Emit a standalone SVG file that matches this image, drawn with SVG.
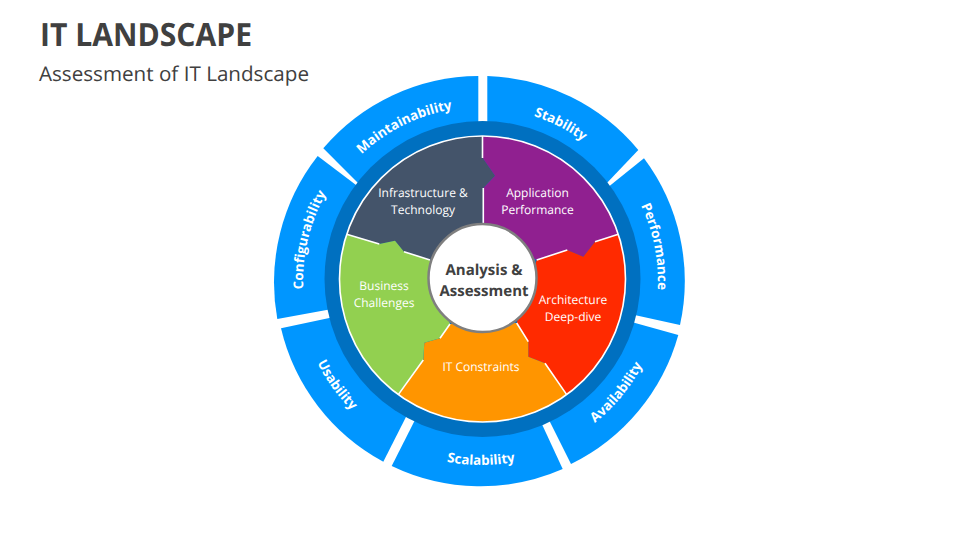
<svg xmlns="http://www.w3.org/2000/svg" width="960" height="540" viewBox="0 0 960 540">
<style>
text{font-family:"Open Sans","Lato","Liberation Sans",sans-serif;text-rendering:geometricPrecision}
.t{font-weight:700;font-size:32px;fill:#404040}
.s{font-size:20.3px;fill:#404040}
.o{fill:#0096ff}
.l{fill:#fff;font-size:13.4px;font-weight:700;text-anchor:middle}
.i{fill:#fff;font-size:12px;text-anchor:middle}
.c{fill:#404040;font-size:15px;font-weight:700;text-anchor:middle}
.w{fill:none;stroke:#fff;stroke-width:1.6}
</style>
<defs>
<path id="pM" d="M316.1 225.5A174 174 0 0 1 536.5 116"/>
<path id="pS" d="M427.3 116.5A173 173 0 0 1 645.5 227.2"/>
<path id="pP" d="M579.5 134A177 177 0 0 1 628 379.4"/>
<path id="pC" d="M329.4 374.2A178 178 0 0 1 387.8 129.4"/>
<path id="pA" d="M498.8 462.1A182 182 0 0 0 662.1 263.2"/>
<path id="pB" d="M350.9 411.1A184 184 0 0 0 611.1 411.1"/>
<path id="pU" d="M300.4 251.7A183 183 0 0 0 451.7 461.6"/>
</defs>
<rect width="960" height="540" fill="#fff"/>
<text class="t" x="40" y="46" textLength="212" lengthAdjust="spacingAndGlyphs">IT LANDSCAPE</text>
<text class="s" x="39" y="81" textLength="270" lengthAdjust="spacingAndGlyphs">Assessment of IT Landscape</text>

<g id="maintainability"><path class="o" d="M323.3 148.3A205 205 0 0 1 478.3 76L478.3 130L360 185Z"/><text class="l"><textPath href="#pM" startOffset="50%">Maintainability</textPath></text></g>
<g id="stability"><path class="o" d="M487.3 76A205 205 0 0 1 638.3 150L605 185L487.3 130Z"/><text class="l"><textPath href="#pS" startOffset="50%">Stability</textPath></text></g>
<g id="performance"><path class="o" d="M644 158.3A205 205 0 0 1 680 325L630 314L607 188Z"/><text class="l"><textPath href="#pP" startOffset="50%">Performance</textPath></text></g>
<g id="availability"><path class="o" d="M678.3 335A205 205 0 0 1 571 464L548 418L628 321Z"/><text class="l"><textPath href="#pA" startOffset="50%">Availability</textPath></text></g>
<g id="scalability"><path class="o" d="M562.7 469A205 205 0 0 1 391.7 466L417 416L540 420Z"/><text class="l"><textPath href="#pB" startOffset="50%">Scalability</textPath></text></g>
<g id="usability"><path class="o" d="M383.3 461.7A205 205 0 0 1 281 328.3L334 317L409 411Z"/><text class="l"><textPath href="#pU" startOffset="50%">Usability</textPath></text></g>
<g id="configurability"><path class="o" d="M277.3 319A205 205 0 0 1 317.7 156L360 188L332 309Z"/><text class="l"><textPath href="#pC" startOffset="50%">Configurability</textPath></text></g>

<circle id="ring" cx="482.5" cy="279" r="158" fill="#0070c0"/>

<g id="infrastructure"><path fill="#44546a" d="M346.7 234.3A143 143 0 0 1 482.5 136L482.7 158L495 175.7L483.3 188L482.5 230L430 260L404 251.7L395 240.7L379.3 244Z"/><text class="i" x="423" y="197">Infrastructure &amp;</text><text class="i" x="423" y="214">Technology</text></g>
<g id="application"><path fill="#902090" d="M482.5 136A143 143 0 0 1 618.3 234.3L595 241.7L583.3 256.7L567.3 250L536.7 260L482.5 230L483.3 188L495 175.7L482.7 158Z"/><text class="i" x="537.5" y="197">Application</text><text class="i" x="537.5" y="214">Performance</text></g>
<g id="architecture"><path fill="#ff2a00" d="M618.3 234.3A143 143 0 0 1 566.7 394.6L545 363.3L528.3 356.7L528.3 341.7L516.7 323L536.7 260L567.3 250L583.3 256.7L595 241.7Z"/><text class="i" x="573" y="304">Architecture</text><text class="i" x="573" y="321">Deep-dive</text></g>
<g id="constraints"><path fill="#ff9500" d="M566.7 394.6A143 143 0 0 1 398.3 394.6L423.3 360L424.3 342.7L440 338.3L450 324L516.7 323L528.3 341.7L528.3 356.7L545 363.3Z"/><text class="i" x="481" y="371">IT Constraints</text></g>
<g id="business"><path fill="#92d050" d="M398.3 394.6A143 143 0 0 1 346.7 234.3L379.3 244L395 240.7L404 251.7L430 260L450 324L440 338.3L424.3 342.7L423.3 360Z"/><text class="i" x="384" y="290">Business</text><text class="i" x="384" y="307">Challenges</text></g>

<g id="connectors">
<circle class="w" cx="482.5" cy="279" r="143"/>
<path class="w" d="M482.5 136V158M483.3 188V230M618.3 234.3L595 241.7M567.3 250L536.7 260M566.7 394.6L545 363.3M528.3 341.7L516.7 323M398.3 394.6L423.3 360M440 338.3L450 324M346.7 234.3L379.3 244M404 251.7L430 260"/>
</g>

<g id="center"><circle cx="482.5" cy="278" r="54" fill="#fff" stroke="#7f7f7f" stroke-width="2.5"/><text class="c" x="484" y="275">Analysis &amp;</text><text class="c" x="484" y="296">Assessment</text></g>
</svg>
